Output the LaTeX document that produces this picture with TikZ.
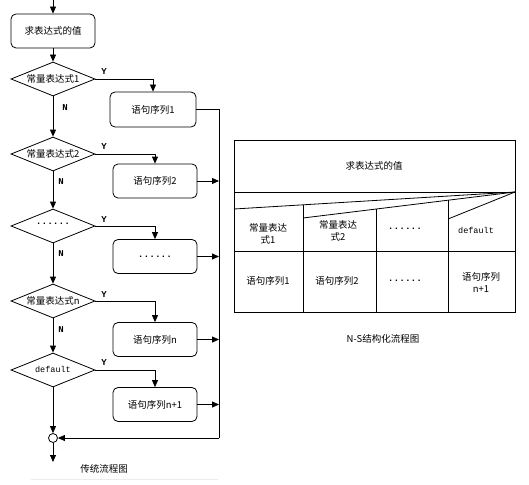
\documentclass[tikz,border=0pt]{standalone}
\usepackage{fontspec}
\newfontfamily\cjk{Noto Sans CJK SC}
\newfontfamily\mono{Liberation Mono}
\usetikzlibrary{shapes.geometric,arrows.meta}
\begin{document}
\begin{tikzpicture}[x=1pt,y=-1pt,
  line width=0.8pt,
  arr/.style={-{Triangle[width=6pt,length=7pt]}},
  proc/.style={draw,rounded corners=5pt,minimum width=84pt,minimum height=34pt,inner sep=0pt,font=\cjk\fontsize{9.5}{11}\selectfont},
  dec/.style={diamond,draw,minimum width=84pt,minimum height=34pt,inner sep=0pt},
  dtext/.style={font=\cjk\fontsize{9.5}{11}\selectfont,inner sep=0pt},
  yn/.style={font=\mono\bfseries\fontsize{9}{10}\selectfont,inner sep=0pt},
  cell/.style={font=\cjk\fontsize{9.5}{12}\selectfont,align=center,inner sep=0pt},
  captext/.style={font=\cjk\fontsize{9.5}{11}\selectfont,inner sep=0pt}
]
\useasboundingbox (0,0) rectangle (529,484);
\fill[white] (0,0) rectangle (529,484);

% ---------- traditional flowchart ----------
\coordinate (in) at (53,0);
\node[proc] (start) at (53,31) {求表达式的值};
\node[dec] (d1) at (53,79) {};
\node[dtext] (d1t) at (53,79) {常量表达式1};
\node[dec] (d2) at (53,154) {};
\node[dtext] (d2t) at (53,154) {常量表达式2};
\node[dec] (d3) at (53,226) {};
\node[dtext] (d3t) at (53,224) {\mono\bfseries ......};
\node[dec] (dn) at (53,301) {};
\node[dtext] (dnt) at (53,301) {常量表达式n};
\node[dec] (dd) at (53,370) {};
\node[dtext] (ddt) at (53,369) {\mono\fontsize{8.5}{10}\selectfont default};

\node[proc,minimum width=86pt,minimum height=35pt] (b1) at (153,109.5) {语句序列1};
\node[proc] (b2) at (155,181) {语句序列2};
\node[proc] (b3) at (155,256.5) {\mono\bfseries ......};
\node[proc] (b4) at (155,339.5) {语句序列n};
\node[proc] (b5) at (155,404.5) {语句序列n+1};

\node[draw,circle,minimum size=9pt,inner sep=0pt] (c) at (53,438) {};
\coordinate (out) at (53,462);

\coordinate (r1) at (219,109.5);
\coordinate (r2) at (219,181);
\coordinate (r3) at (219,256.5);
\coordinate (r4) at (219,339.5);
\coordinate (r5) at (219,404.5);
\coordinate (rend) at (219,438);

\draw[arr] (in) -- (start);
\draw[arr] (start) -- (d1);
\draw[arr] (d1) -- (d2);
\draw[arr] (d2) -- (d3);
\draw[arr] (d3) -- (dn);
\draw[arr] (dn) -- (dd);
\draw[arr] (dd) -- (c);
\draw[arr] (c) -- (out);

\draw[arr] (d1.east) -| (b1.north);
\draw[arr] (d2.east) -| (b2.north);
\draw[arr] (d3.east) -| (b3.north);
\draw[arr] (dn.east) -| (b4.north);
\draw[arr] (dd.east) -| (b5.north);

\draw (b1.east) -- (r1) -- (rend);
\draw[arr] (rend) -- (c.east);
\draw[arr] (b2.east) -- (r2);
\draw[arr] (b3.east) -- (r3);
\draw[arr] (b4.east) -- (r4);
\draw[arr] (b5.east) -- (r5);

\node[yn] (y1) at (104,72) {Y};
\node[yn] (y2) at (104,147) {Y};
\node[yn] (y3) at (104,220) {Y};
\node[yn] (y4) at (104,295) {Y};
\node[yn] (y5) at (104,363) {Y};
\node[yn] (n1) at (65,108) {N};
\node[yn] (n2) at (61,182) {N};
\node[yn] (n3) at (61,254) {N};
\node[yn] (n4) at (61,330) {N};

\node[captext] (cap1) at (104,469) {传统流程图};
\draw[draw=green!6!black!8,line width=1pt] (31,479) -- (218,479);

% ---------- N-S chart ----------
\coordinate (tl) at (234,140);
\coordinate (tr) at (515,140);
\coordinate (bl) at (234,312);
\coordinate (br) at (515,312);
\coordinate (hl) at (234,192);
\coordinate (hr) at (515,192);
\coordinate (l1) at (234,209);
\coordinate (c1a) at (303,204.8);
\coordinate (c1b) at (303,218);
\coordinate (c2a) at (376,209);
\coordinate (c3a) at (448,200.2);
\coordinate (c3b) at (448,219);
\coordinate (rl) at (234,251);
\coordinate (rr) at (515,251);

\draw (tl) rectangle (br);
\draw (hl) -- (hr);
\draw (l1) -- (hr);
\draw (c1b) -- (hr);
\draw (c3b) -- (hr);
\draw (c1a) -- (303,312);
\draw (c2a) -- (376,312);
\draw (c3a) -- (448,312);
\draw (rl) -- (rr);

\node[cell] (h) at (374,166) {求表达式的值};
\node[cell] (k1) at (268,234) {常量表达\\式1};
\node[cell] (k2) at (338,231) {常量表达\\式2};
\node[cell] (k3) at (405,229) {\mono\bfseries ......};
\node[cell] (k4) at (476,230) {\mono\fontsize{8.5}{10}\selectfont default};
\node[cell] (s1) at (268,281) {语句序列1};
\node[cell] (s2) at (337,281) {语句序列2};
\node[cell] (s3) at (405,281) {\mono\bfseries ......};
\node[cell] (s4) at (481,282) {语句序列\\n+1};
\node[captext] (cap2) at (383,339) {N-S结构化流程图};
\end{tikzpicture}
\end{document}
